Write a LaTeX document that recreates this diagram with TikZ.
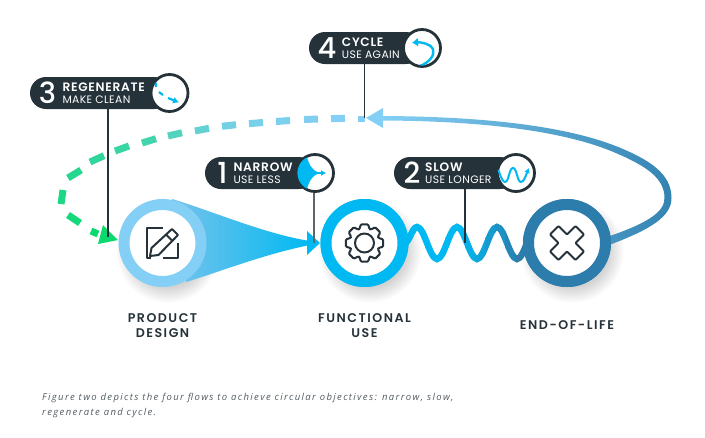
\documentclass[tikz,border=0pt]{standalone}
\usepackage{fontspec}
\setmainfont{Poppins}
\newfontfamily\titlefont[LetterSpace=6]{Poppins SemiBold}
\newfontfamily\stagefont[LetterSpace=12]{Poppins SemiBold}
\newfontfamily\numfont{Poppins Medium}
\newfontfamily\subfont[LetterSpace=3.5]{Poppins}
\newfontfamily\capfont[LetterSpace=14.5]{Open Sans}
\usetikzlibrary{decorations.pathmorphing,arrows.meta}
\definecolor{ink}{HTML}{25323A}
\definecolor{paleblue}{HTML}{84CFF5}
\definecolor{brightblue}{HTML}{00B9F2}
\definecolor{deepblue}{HTML}{2D7DAC}
\definecolor{flowgreen}{HTML}{0BD96F}
\definecolor{shadowgrey}{HTML}{D2D2D2}
\pgfdeclareradialshading{softshadow}{\pgfpoint{0bp}{0bp}}{color(0bp)=(shadowgrey); color(17bp)=(shadowgrey); color(25bp)=(white); color(50bp)=(white)}
\tikzset{
    flowring/.style={circle, draw, fill=white, line width=11pt, minimum size=77pt, inner sep=0pt},
    pillbox/.style={rectangle, fill=ink, rounded corners=16pt, minimum height=32pt, inner sep=0pt},
    iconring/.style={circle, draw=ink, fill=white, line width=2.8pt, minimum size=37pt, inner sep=0pt},
    bignum/.style={inner sep=0pt, text=white, font=\numfont\fontsize{29}{29}\selectfont},
    pilltitle/.style={anchor=west, inner sep=0pt, text=white, font=\titlefont\fontsize{12.2}{12}\selectfont},
    pillsub/.style={anchor=west, inner sep=0pt, text=white, font=\subfont\fontsize{10.8}{11}\selectfont},
    leadline/.style={draw=ink, line width=1.1pt},
    iconline/.style={draw=ink, line width=2pt, line join=round},
    minicon/.style={draw=brightblue, line width=2pt},
    flowlabel/.style={align=center, inner sep=0pt, text=ink, font=\stagefont\fontsize{12.6}{15}\selectfont},
}
\begin{document}
\begin{tikzpicture}[x=1pt, y=-1pt]
\useasboundingbox (0,0) rectangle (705,437);
% soft shadows
\foreach \cx in {162.5,364.5,567}
    \shade[shading=softshadow] (\cx+5,251) circle (52);
% cone of the narrow flow
\shade[left color=paleblue!85!deepblue, middle color=paleblue, right color=brightblue]
    (172,199) .. controls (215,212) and (265,234) .. (310,241) -- (310,245)
    .. controls (265,254) and (225,270) .. (186,282) -- cycle;
\fill[brightblue] (320,243) -- (307,231) -- (307,255) -- cycle;
% long return arc
\shade[left color=paleblue, middle color=paleblue, right color=deepblue!92!paleblue]
    (609,245) .. controls (652,229) and (671.5,216) .. (671.5,198)
    .. controls (671.5,174) and (650,160) .. (618.2,147)
    .. controls (560,123.5) and (470,116.5) .. (383,116) -- (383,120.5)
    .. controls (470,121) and (559,128.5) .. (615.8,153)
    .. controls (646,166) and (664.5,178) .. (664.5,198)
    .. controls (664.5,212) and (648,223) .. (607,237) -- cycle;
\coordinate (cycletip) at (366,118);
\fill[paleblue] (358,115.5) rectangle (365,122);
\fill[paleblue] (cycletip) -- (383,108) -- (383,128) -- cycle;
% dashed regenerate flow
\foreach \ax/\ay/\bx/\by/\p in {345/118.3/331/118.7/0, 318/119/304/119.5/3, 290/120.5/276/121.5/6,
    263/122.5/249/123.7/9, 236/124.7/222/126.3/14, 209/128.3/195/131/26, 182/132.7/168/136/42,
    156/138.7/142/143/54, 129/146/115/151/62, 104/155.7/90/162/68, 81/170/68/178/76,
    63/190/61/204/84, 68/215/80/223/92, 91/231/98/234/100}
    \draw[flowgreen!\p!paleblue, line width=7pt] (\ax,\ay) -- (\bx,\by);
\coordinate (regentip) at (118,240);
\fill[flowgreen] (regentip) -- (103,225) -- (98,244) -- cycle;
% the three stages
\node[flowring, draw=paleblue] (design) at (162.5,243) {};
\node[flowring, draw=brightblue] (use) at (364.5,243) {};
\node[flowring, draw=deepblue] (eol) at (567,243) {};
% slow flow, one clipped strip per colour step
\foreach \i in {0,...,11} {
    \begin{scope}
        \clip (405+\i*10,215) rectangle (416+\i*10,270);
        \ifnum\i<6
            \def\q{0}
        \else
            \pgfmathsetmacro{\q}{(\i-5)*100/6}
        \fi
        \draw[deepblue!\q!brightblue, line width=6.5pt, decorate, decoration={snake, segment length=40pt, amplitude=16pt}]
            ([xshift=-4pt]use.east) -- ([xshift=30pt]eol.west);
    \end{scope}
}
\node[flowring, draw=brightblue] at (use) {};
\node[flowring, draw=deepblue] at (eol) {};
% pencil icon
\draw[iconline] (162.7,227.7) -- (146.7,227.7) -- (146.7,258.3) -- (151,258.3);
\draw[iconline] (178.3,243.3) -- (178.3,258.3) -- (163.3,258.3);
\draw[iconline] (150,256) -- (151.5,248) -- (172,229) -- (178,235) -- (158.5,255) -- cycle;
\draw[iconline] (166,234.5) -- (172,240.5);
% gear icon
\begin{scope}[shift={(use.center)}]
    \draw[iconline, rounded corners=1pt] (-20:14.8)
        \foreach \a in {0,45,...,315} { -- (\a-20:14.8) -- (\a-11:19) -- (\a+11:19) -- (\a+20:14.8) } -- cycle;
    \draw[iconline] (0,0) circle (9.5);
\end{scope}
% cross icon
\begin{scope}[shift={(eol.center)}, rotate=45]
    \draw[iconline, rounded corners=1pt] (-6,-6) -- (-6,-18) -- (6,-18) -- (6,-6) -- (18,-6) -- (18,6)
        -- (6,6) -- (6,18) -- (-6,18) -- (-6,6) -- (-18,6) -- (-18,-6) -- cycle;
\end{scope}
% stage names
\node[flowlabel] (designname) at (162.5,325.5) {PRODUCT\\DESIGN};
\node[flowlabel] (usename) at (364.5,325.5) {FUNCTIONAL\\USE};
\node[flowlabel] (eolname) at (567,325.5) {END-OF-LIFE};
% callouts
\node[pillbox, minimum width=140pt] (regenpill) at (100,93) {};
\node[pillbox, minimum width=110pt] (narrowpill) at (260,173) {};
\node[pillbox, minimum width=122pt] (slowpill) at (455,173) {};
\node[pillbox, minimum width=113pt] (cyclepill) at (365.5,48) {};
\coordinate (regenfoot) at (108,237);
\coordinate (narrowfoot) at (314,243);
\coordinate (slowfoot) at (465,243);
\coordinate (cyclefoot) at (364.7,118);
\draw[leadline] (regenfoot |- regenpill.south) -- (regenfoot);
\draw[leadline, draw=ink!75, line width=1.4pt] (narrowfoot |- narrowpill.south) -- (narrowfoot);
\draw[leadline] (slowfoot |- slowpill.south) -- (slowfoot);
\draw[leadline] (cyclefoot |- cyclepill.south) -- (cyclefoot);
\node[iconring] (regenicon) at (169.5,93) {};
\node[iconring] (narrowicon) at (315,173) {};
\node[iconring] (slowicon) at (516,173) {};
\node[iconring] (cycleicon) at (422,48) {};
\node[bignum] (regennum) at (47.5,93) {3};
\node[pilltitle] (regentitle) at (62.3,87) {REGENERATE};
\node[pillsub] (regensub) at (62.3,99.7) {MAKE CLEAN};
\node[bignum] (narrownum) at (222.5,173) {1};
\node[pilltitle] (narrowtitle) at (233.3,167) {NARROW};
\node[pillsub] (narrowsub) at (233.3,179.7) {USE LESS};
\node[bignum] (slownum) at (412,173) {2};
\node[pilltitle] (slowtitle) at (425,167) {SLOW};
\node[pillsub] (slowsub) at (425,179.7) {USE LONGER};
\node[bignum] (cyclenum) at (327,48) {4};
\node[pilltitle] (cycletitle) at (341.7,42.3) {CYCLE};
\node[pillsub] (cyclesub) at (341.7,55) {USE AGAIN};
% mini icons
\draw[minicon, line width=2.2pt] (155.7,83) -- (156,87);
\draw[minicon, line width=2.2pt] (159,92) -- (163,95);
\draw[minicon, line width=2.2pt, -{Latex[length=6pt, width=7pt]}] (168,98) -- (179,102.5);
\begin{scope}
    \clip (narrowicon.center) circle (17.6);
    \fill[brightblue] (290,150) -- (306,150) .. controls (307,163) and (312,171) .. (320,173)
        .. controls (312,175) and (307,183) .. (306,196) -- (290,196) -- cycle;
\end{scope}
\draw[minicon, line width=1.4pt, -{Latex[length=5pt, width=6pt]}] (318,173) -- (326,173);
\draw[minicon, -{Latex[length=5pt, width=6pt]}] (498.5,170) .. controls (501,178) and (503,182) .. (505,182)
    .. controls (509,182) and (509,168) .. (513,168) .. controls (517,168) and (517,182) .. (521,182)
    .. controls (524,182) and (526,175) .. (529,168);
\begin{scope}
    \clip (cycleicon.center) circle (17.6);
    \draw[minicon, line width=2.4pt, -{Latex[length=6pt, width=9pt]}] (420,66) .. controls (430,62) and (435,55) .. (433,49)
        .. controls (431,44) and (421,42) .. (412,42.7);
\end{scope}
% caption
\node[anchor=north west, align=left, inner sep=0pt, text=ink!80, font=\capfont\itshape\fontsize{9.5}{15}\selectfont] (caption) at (42,393)
    {Figure two depicts the four flows to achieve circular objectives: narrow, slow,\\regenerate and cycle.};
\end{tikzpicture}
\end{document}
